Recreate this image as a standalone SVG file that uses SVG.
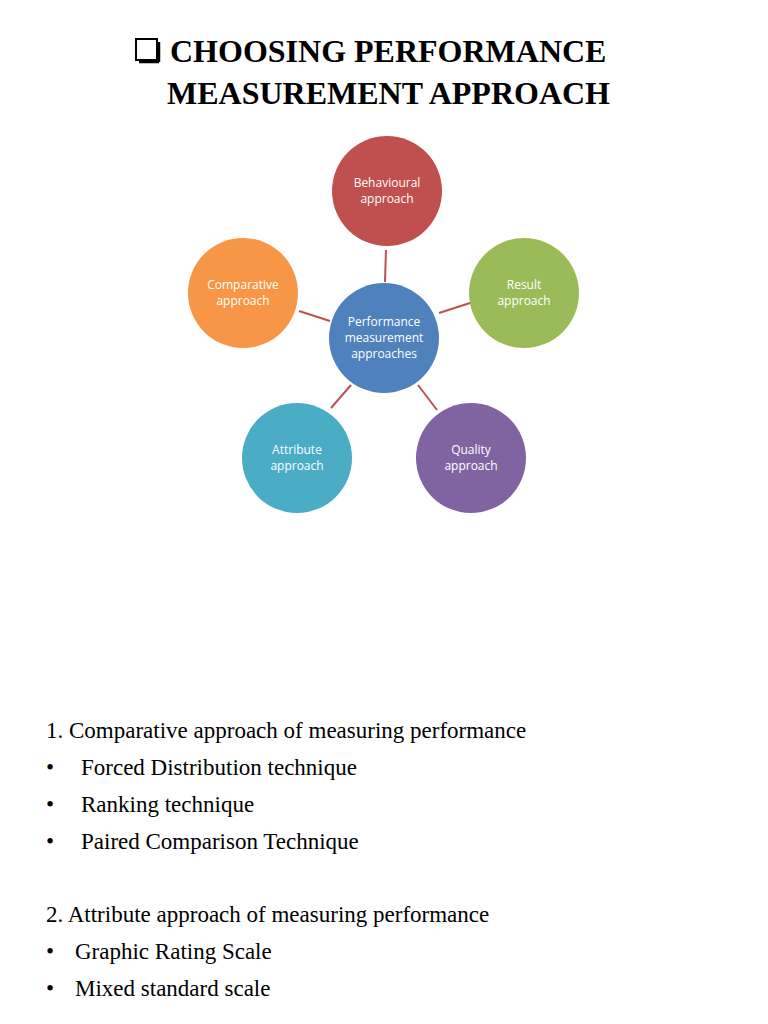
<svg xmlns="http://www.w3.org/2000/svg" width="768" height="1024" viewBox="0 0 768 1024">
<style>
.t{font-family:"Liberation Serif",serif;font-weight:bold;font-size:32px;fill:#000}
.b{font-family:"Liberation Serif",serif;font-size:23px;fill:#000}
.c{font-family:"Open Sans","Noto Sans",sans-serif;font-size:12px;fill:#fff;text-anchor:middle}
.l{stroke:#c0504d;stroke-width:2}
</style>
<rect width="768" height="1024" fill="#fff"/>
<g id="title">
<rect x="136" y="39" width="21" height="21" fill="none" stroke="#000" stroke-width="2"/>
<line x1="139" y1="62" x2="159" y2="62" stroke="#000" stroke-width="2.5"/>
<line x1="159" y1="42" x2="159" y2="62" stroke="#000" stroke-width="2.5"/>
<text class="t" x="170" y="62">CHOOSING PERFORMANCE</text>
<text class="t" x="167" y="104">MEASUREMENT APPROACH</text>
</g>
<g id="connectors">
<line class="l" x1="386" y1="250" x2="385" y2="282"/>
<line class="l" x1="439" y1="313" x2="470" y2="303"/>
<line class="l" x1="299" y1="311" x2="330" y2="321"/>
<line class="l" x1="331" y1="408" x2="351" y2="385"/>
<line class="l" x1="418" y1="385" x2="437" y2="410"/>
</g>
<g id="center"><circle cx="384" cy="338" r="55" fill="#4f81bd"/>
<text class="c" x="384" y="326">Performance</text><text class="c" x="384" y="342">measurement</text><text class="c" x="384" y="358">approaches</text></g>
<g id="behavioural"><circle cx="387" cy="191" r="55" fill="#c0504d"/>
<text class="c" x="387" y="187">Behavioural</text><text class="c" x="387" y="203">approach</text></g>
<g id="result"><circle cx="524" cy="293" r="55" fill="#9bbb59"/>
<text class="c" x="524" y="289">Result</text><text class="c" x="524" y="305">approach</text></g>
<g id="comparative"><circle cx="243" cy="293" r="55" fill="#f79646"/>
<text class="c" x="243" y="289">Comparative</text><text class="c" x="243" y="305">approach</text></g>
<g id="attribute"><circle cx="297" cy="458" r="55" fill="#4bacc6"/>
<text class="c" x="297" y="454">Attribute</text><text class="c" x="297" y="470">approach</text></g>
<g id="quality"><circle cx="471" cy="458" r="55" fill="#8064a2"/>
<text class="c" x="471" y="454">Quality</text><text class="c" x="471" y="470">approach</text></g>
<g id="list">
<text class="b" x="46" y="738">1.  Comparative approach of measuring performance</text>
<text class="b" x="46" y="775">•</text><text class="b" x="81" y="775">Forced Distribution technique</text>
<text class="b" x="46" y="812">•</text><text class="b" x="81" y="812">Ranking technique</text>
<text class="b" x="46" y="849">•</text><text class="b" x="81" y="849">Paired Comparison Technique</text>
<text class="b" x="46" y="922">2.  Attribute approach of measuring performance</text>
<text class="b" x="46" y="959">•</text><text class="b" x="75" y="959">Graphic Rating Scale</text>
<text class="b" x="46" y="996">•</text><text class="b" x="75" y="996">Mixed standard scale</text>
</g>
</svg>
